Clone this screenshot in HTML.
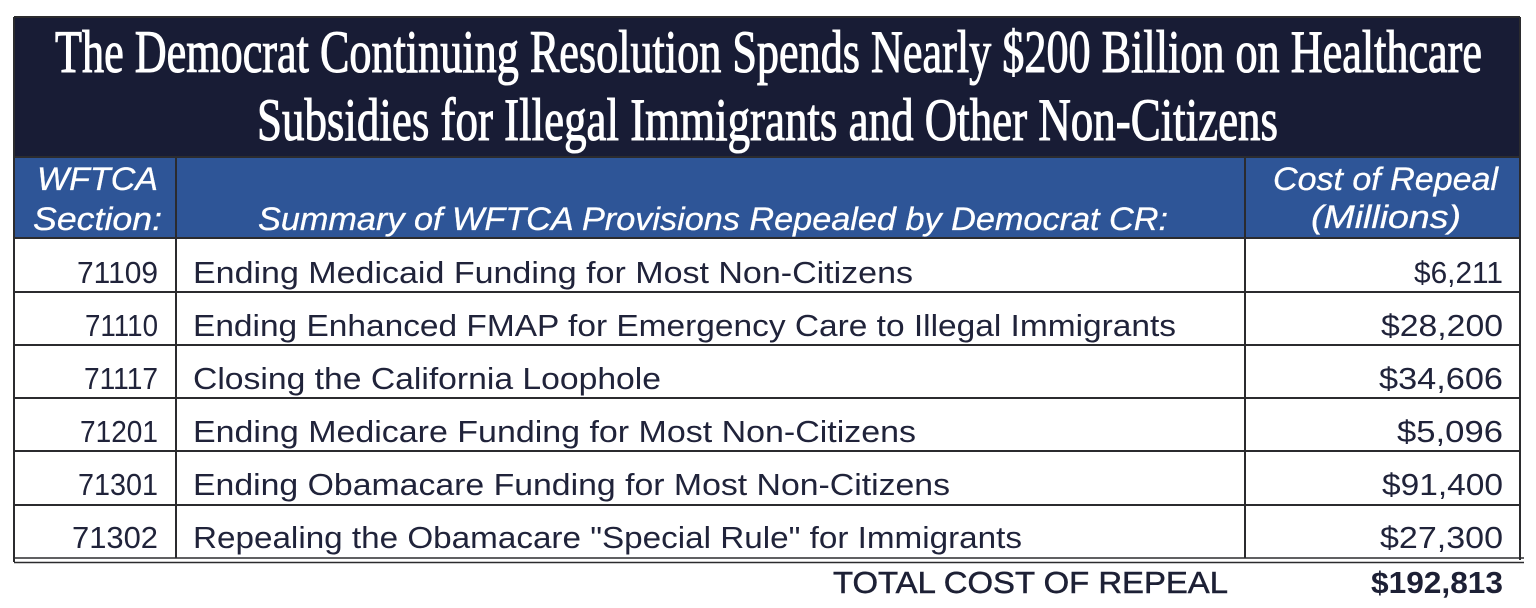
<!DOCTYPE html>
<html>
<head>
<meta charset="utf-8">
<style>
  html,body{margin:0;padding:0;background:#ffffff;}
  body{width:1536px;height:608px;overflow:hidden;}
  svg{display:block;}
  .t{font-family:"Liberation Serif",serif;font-size:60px;fill:#ffffff;stroke:#ffffff;stroke-width:1.1;}
  .h{font-family:"Liberation Sans",sans-serif;font-style:italic;font-size:32px;fill:#ffffff;stroke:#ffffff;stroke-width:0.3;}
  .b{font-family:"Liberation Sans",sans-serif;font-size:31px;fill:#20233a;}
  .tot{font-family:"Liberation Sans",sans-serif;font-size:31px;fill:#1d2035;stroke:#1d2035;stroke-width:0.5;}
  .totb{font-family:"Liberation Sans",sans-serif;font-size:31px;font-weight:bold;fill:#1d2035;}
</style>
</head>
<body>
<svg width="1536" height="608" viewBox="0 0 1536 608" xmlns="http://www.w3.org/2000/svg">
  <rect x="0" y="0" width="1536" height="608" fill="#ffffff"/>
  <!-- Title -->
  <rect x="14" y="17" width="1506" height="140" fill="#181c35"/>
  <!-- Header -->
  <rect x="14" y="157" width="1506" height="81" fill="#2e5597"/>

  <!-- Grid lines -->
  <g stroke="#2b2b2e" stroke-width="2" fill="none">
    <line x1="14" y1="17" x2="1520" y2="17"/>
    <line x1="14" y1="17" x2="14" y2="562"/>
    <line x1="1520" y1="17" x2="1520" y2="560"/>
    <line x1="14" y1="157" x2="1520" y2="157"/>
    <line x1="14" y1="238" x2="1520" y2="238"/>
    <line x1="14" y1="292" x2="1520" y2="292"/>
    <line x1="14" y1="345" x2="1520" y2="345"/>
    <line x1="14" y1="398" x2="1520" y2="398"/>
    <line x1="14" y1="451" x2="1520" y2="451"/>
    <line x1="14" y1="505" x2="1520" y2="505"/>
    <line x1="176" y1="157" x2="176" y2="558"/>
    <line x1="1245" y1="157" x2="1245" y2="558"/>
  </g>
  <g stroke="#2b2b2e" stroke-width="1.6">
    <line x1="14" y1="558" x2="1524" y2="558"/>
    <line x1="14" y1="562.5" x2="1524" y2="562.5"/>
  </g>

  <!-- Title text -->
  <text class="t" x="55" y="72" textLength="1427" lengthAdjust="spacingAndGlyphs">The Democrat Continuing Resolution Spends Nearly $200 Billion on Healthcare</text>
  <text class="t" x="257" y="140" textLength="1021" lengthAdjust="spacingAndGlyphs">Subsidies for Illegal Immigrants and Other Non-Citizens</text>

  <!-- Header text -->
  <text class="h" x="37" y="190" textLength="121" lengthAdjust="spacingAndGlyphs">WFTCA</text>
  <text class="h" x="33" y="230" textLength="129" lengthAdjust="spacingAndGlyphs">Section:</text>
  <text class="h" x="258" y="230" textLength="910" lengthAdjust="spacingAndGlyphs">Summary of WFTCA Provisions Repealed by Democrat CR:</text>
  <text class="h" x="1273" y="190" textLength="225" lengthAdjust="spacingAndGlyphs">Cost of Repeal</text>
  <text class="h" x="1311" y="228" textLength="150" lengthAdjust="spacingAndGlyphs">(Millions)</text>

  <!-- Rows -->
  <text class="b" x="77" y="283" textLength="81" lengthAdjust="spacingAndGlyphs">71109</text>
  <text class="b" x="193" y="283" textLength="720" lengthAdjust="spacingAndGlyphs">Ending Medicaid Funding for Most Non-Citizens</text>
  <text class="b" x="1414" y="283" textLength="89" lengthAdjust="spacingAndGlyphs">$6,211</text>

  <text class="b" x="85" y="336" textLength="73" lengthAdjust="spacingAndGlyphs">71110</text>
  <text class="b" x="193" y="336" textLength="983" lengthAdjust="spacingAndGlyphs">Ending Enhanced FMAP for Emergency Care to Illegal Immigrants</text>
  <text class="b" x="1381" y="336" textLength="122" lengthAdjust="spacingAndGlyphs">$28,200</text>

  <text class="b" x="84" y="389" textLength="74" lengthAdjust="spacingAndGlyphs">71117</text>
  <text class="b" x="193" y="389" textLength="468" lengthAdjust="spacingAndGlyphs">Closing the California Loophole</text>
  <text class="b" x="1379" y="389" textLength="124" lengthAdjust="spacingAndGlyphs">$34,606</text>

  <text class="b" x="80" y="442" textLength="78" lengthAdjust="spacingAndGlyphs">71201</text>
  <text class="b" x="193" y="442" textLength="723" lengthAdjust="spacingAndGlyphs">Ending Medicare Funding for Most Non-Citizens</text>
  <text class="b" x="1397" y="442" textLength="106" lengthAdjust="spacingAndGlyphs">$5,096</text>

  <text class="b" x="78" y="495" textLength="80" lengthAdjust="spacingAndGlyphs">71301</text>
  <text class="b" x="193" y="495" textLength="757" lengthAdjust="spacingAndGlyphs">Ending Obamacare Funding for Most Non-Citizens</text>
  <text class="b" x="1382" y="495" textLength="121" lengthAdjust="spacingAndGlyphs">$91,400</text>

  <text class="b" x="72" y="548" textLength="86" lengthAdjust="spacingAndGlyphs">71302</text>
  <text class="b" x="193" y="548" textLength="829" lengthAdjust="spacingAndGlyphs">Repealing the Obamacare "Special Rule" for Immigrants</text>
  <text class="b" x="1380" y="548" textLength="123" lengthAdjust="spacingAndGlyphs">$27,300</text>

  <!-- Total -->
  <text class="tot" x="833" y="593" textLength="395" lengthAdjust="spacingAndGlyphs">TOTAL COST OF REPEAL</text>
  <text class="totb" x="1371" y="593" textLength="132" lengthAdjust="spacingAndGlyphs">$192,813</text>
</svg>
</body>
</html>
